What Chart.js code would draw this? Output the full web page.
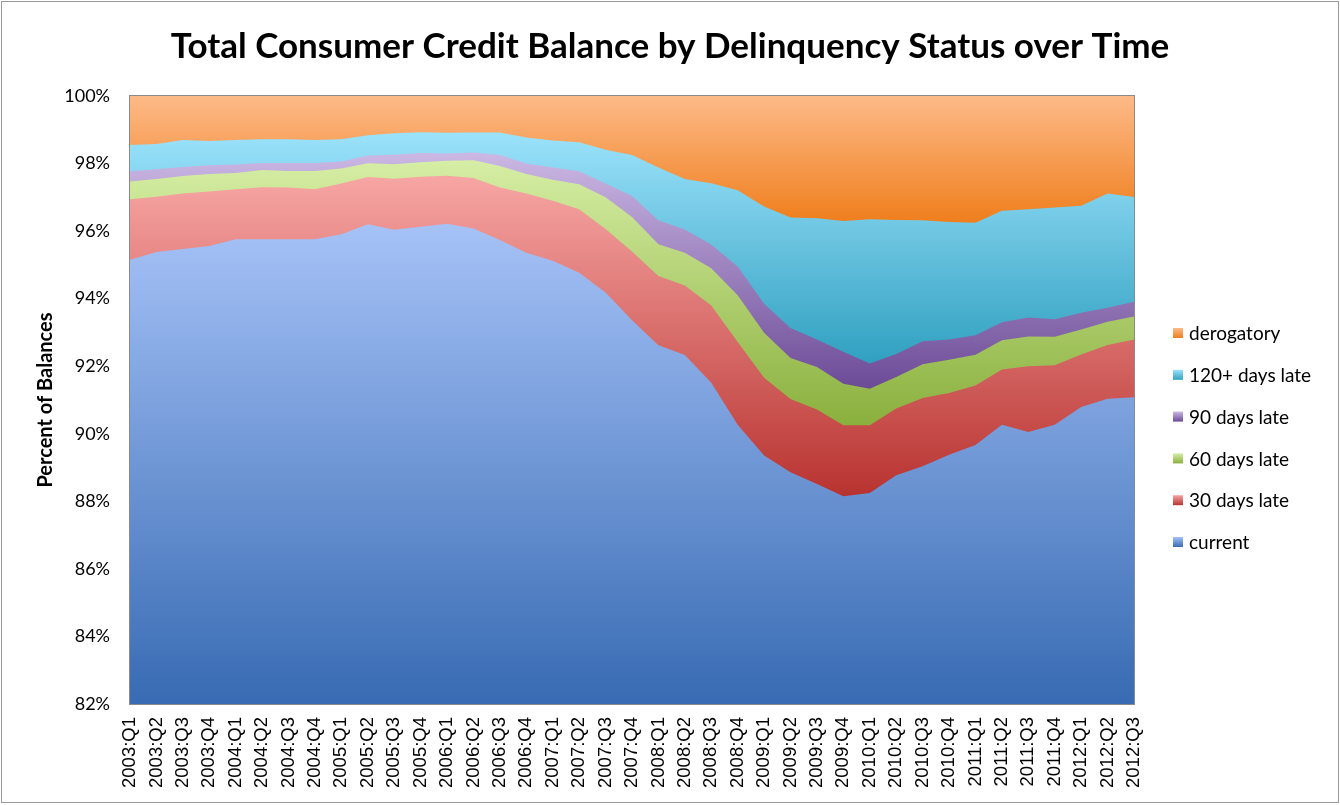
<!DOCTYPE html>
<html>
<head>
<meta charset="utf-8">
<script src="https://cdn.jsdelivr.net/npm/chart.js@4.4.1/dist/chart.umd.min.js"></script>
<style>
html,body{margin:0;padding:0;background:#fff;overflow:hidden;}
canvas{display:block;}
</style>
</head>
<body>
<canvas id="c" width="1340" height="805"></canvas>
<script>
const categories = [
  "2003:Q1","2003:Q2","2003:Q3","2003:Q4","2004:Q1","2004:Q2","2004:Q3","2004:Q4",
  "2005:Q1","2005:Q2","2005:Q3","2005:Q4","2006:Q1","2006:Q2","2006:Q3","2006:Q4",
  "2007:Q1","2007:Q2","2007:Q3","2007:Q4","2008:Q1","2008:Q2","2008:Q3","2008:Q4",
  "2009:Q1","2009:Q2","2009:Q3","2009:Q4","2010:Q1","2010:Q2","2010:Q3","2010:Q4",
  "2011:Q1","2011:Q2","2011:Q3","2011:Q4","2012:Q1","2012:Q2","2012:Q3"
];

// percent of balances in each delinquency status (stacked to 100%)
const current = [95.15,95.38,95.47,95.56,95.76,95.76,95.76,95.76,95.91,96.20,96.04,96.13,96.22,96.08,95.74,95.36,
  95.12,94.77,94.18,93.36,92.62,92.33,91.51,90.27,89.36,88.86,88.51,88.15,88.25,88.77,89.04,89.38,
  89.67,90.27,90.05,90.27,90.79,91.04,91.08];
const late30 = [1.79,1.64,1.64,1.61,1.48,1.54,1.53,1.48,1.50,1.40,1.51,1.48,1.42,1.49,1.55,1.75,
  1.78,1.88,1.88,2.04,2.05,2.06,2.29,2.45,2.30,2.17,2.21,2.10,2.00,1.98,2.02,1.83,
  1.76,1.63,1.95,1.76,1.56,1.59,1.71];
const late60 = [0.53,0.52,0.52,0.52,0.48,0.51,0.49,0.54,0.44,0.41,0.43,0.43,0.44,0.53,0.64,0.58,
  0.62,0.74,0.94,1.02,0.94,0.97,1.10,1.38,1.33,1.21,1.26,1.23,1.08,0.93,1.00,0.98,
  0.91,0.87,0.88,0.84,0.74,0.69,0.68];
const late90 = [0.30,0.29,0.27,0.26,0.25,0.21,0.24,0.24,0.21,0.23,0.28,0.27,0.22,0.23,0.32,0.31,
  0.36,0.38,0.41,0.62,0.71,0.69,0.70,0.85,0.86,0.89,0.81,0.95,0.75,0.68,0.68,0.60,
  0.58,0.53,0.56,0.52,0.49,0.41,0.44];
const late120 = [0.78,0.75,0.80,0.72,0.73,0.70,0.70,0.68,0.66,0.60,0.64,0.62,0.61,0.59,0.67,0.77,
  0.80,0.86,1.00,1.21,1.56,1.49,1.82,2.26,2.88,3.27,3.59,3.87,4.27,3.97,3.58,3.48,
  3.33,3.30,3.21,3.31,3.17,3.38,3.10];
const derogatory = [1.45,1.42,1.30,1.33,1.30,1.28,1.28,1.30,1.28,1.16,1.10,1.07,1.09,1.08,1.08,1.23,
  1.32,1.37,1.59,1.75,2.12,2.46,2.58,2.79,3.27,3.60,3.62,3.70,3.65,3.67,3.68,3.73,
  3.75,3.40,3.35,3.30,3.25,2.89,2.99];

const seriesNames = ["current","30 days late","60 days late","90 days late","120+ days late","derogatory"];
const seriesData = [current, late30, late60, late90, late120, derogatory];
// [light (top), dark (bottom)] gradient colours
const seriesColors = [
  ["#A6C2F7","#386BB3"],
  ["#F7A6A4","#B83330"],
  ["#D6EEA5","#8AB03D"],
  ["#CBB8E4","#6C4B97"],
  ["#9CE2FB","#30A0C0"],
  ["#FDBA88","#EF7E1C"]
];
const yMin = 82, yMax = 100;

// cumulative extents for gradient ranges
const cumTop = [], cumBot = [];
{
  let base = categories.map(() => 0);
  seriesData.forEach((s, k) => {
    const top = s.map((v, i) => base[i] + v);
    cumTop.push(Math.max(...top));
    cumBot.push(k === 0 ? yMin : Math.max(yMin, Math.min(...base)));
    base = top;
  });
}

function gradFor(chart, k) {
  const y = chart.scales.y;
  const y1 = y.getPixelForValue(Math.min(yMax, cumTop[k]));
  const y2 = y.getPixelForValue(cumBot[k]);
  const g = chart.ctx.createLinearGradient(0, y1, 0, y2);
  g.addColorStop(0, seriesColors[k][0]);
  g.addColorStop(1, seriesColors[k][1]);
  return g;
}

const datasets = seriesData.map((s, k) => ({
  label: seriesNames[k],
  data: s,
  fill: 'start',
  borderWidth: 0,
  borderColor: 'rgba(0,0,0,0)',
  pointRadius: 0,
  pointHoverRadius: 0,
  tension: 0,
  backgroundColor: (ctx) => {
    const chart = ctx.chart;
    if (!chart.chartArea || !chart.scales.y) return seriesColors[k][1];
    return gradFor(chart, k);
  }
}));

const framePlugin = {
  id: 'frame',
  afterDraw(chart) {
    const ctx = chart.ctx;
    const a = chart.chartArea;
    ctx.save();
    // plot area border
    ctx.strokeStyle = '#8A8A8A';
    ctx.lineWidth = 1;
    ctx.strokeRect(Math.round(a.left) - 0.5, Math.round(a.top) - 0.5,
      Math.round(a.right - a.left) + 1, Math.round(a.bottom - a.top) + 1);
    // outer chart border
    ctx.strokeStyle = '#9A9A9A';
    ctx.strokeRect(1.5, 1.5, 1337, 801);
    // legend (reverse order, derogatory on top)
    const x0 = 1173, yStart = 333, step = 41.8;
    ctx.font = '19px Lato';
    ctx.textBaseline = 'middle';
    ctx.textAlign = 'left';
    for (let j = 0; j < seriesNames.length; j++) {
      const k = seriesNames.length - 1 - j;
      const yc = yStart + j * step;
      const g = ctx.createLinearGradient(0, yc - 5, 0, yc + 5);
      g.addColorStop(0, seriesColors[k][0]);
      g.addColorStop(1, seriesColors[k][1]);
      ctx.fillStyle = g;
      ctx.fillRect(x0, yc - 5, 10, 10);
      ctx.fillStyle = '#000';
      ctx.fillText(seriesNames[k], x0 + 16, yc + 1);
    }
    ctx.restore();
  }
};

new Chart(document.getElementById('c'), {
  type: 'line',
  data: { labels: categories, datasets },
  plugins: [framePlugin],
  options: {
    responsive: false,
    animation: false,
    devicePixelRatio: 1,
    layout: { padding: { left: 0, right: 0, top: 0, bottom: 0 } },
    plugins: {
      legend: { display: false },
      tooltip: { enabled: false },
      title: {
        display: true,
        text: 'Total Consumer Credit Balance by Delinquency Status over Time',
        color: '#000',
        font: { family: 'Lato', size: 35, weight: 'bold', lineHeight: 1.2 },
        padding: { top: 26, bottom: 28 }
      }
    },
    scales: {
      x: {
        type: 'category',
        offset: false,
        grid: { display: false, drawTicks: false },
        border: { display: false },
        ticks: {
          autoSkip: false,
          minRotation: 90,
          maxRotation: 90,
          padding: 13,
          color: '#000',
          font: { family: 'Liberation Sans', size: 18.5 }
        },
        afterFit: (s) => { s.height = 101; }
      },
      y: {
        stacked: true,
        min: yMin,
        max: yMax,
        grid: { display: false, drawTicks: false },
        border: { display: false },
        ticks: {
          stepSize: 2,
          padding: 20,
          color: '#000',
          font: { family: 'Lato', size: 18 },
          callback: (v) => v + '%'
        },
        title: {
          display: true,
          text: 'Percent of Balances',
          color: '#000',
          font: { family: 'Lato', size: 20, weight: 'bold', lineHeight: 1.2 },
          padding: { top: 34, bottom: 0 }
        },
        afterFit: (s) => { s.width = 130; }
      },
      legendSpace: {
        type: 'linear',
        position: 'right',
        display: true,
        grid: { display: false, drawTicks: false },
        border: { display: false },
        ticks: { display: false },
        afterFit: (s) => { s.width = 206; }
      }
    }
  }
});
</script>
</body>
</html>
